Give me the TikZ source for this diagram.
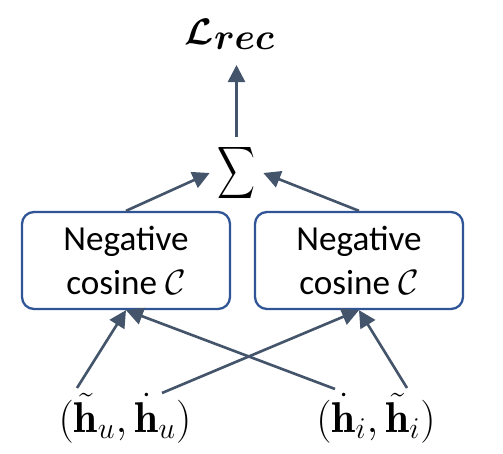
\RequirePackage{fix-cm}
\documentclass[tikz,border=0pt]{standalone}
\usepackage{fontspec}
\usepackage{amsmath,bm,graphicx}
\newfontfamily\calibri{Carlito}
\usetikzlibrary{arrows.meta}
\definecolor{arrowgray}{HTML}{44546A}
\definecolor{boxblue}{HTML}{2F5597}

\begin{document}
\begin{tikzpicture}
  \useasboundingbox (0,0) rectangle (10.06,9.08);

  \begin{scope}[every node/.style={draw=boxblue,line width=1.3pt,rounded corners=0.24cm,
      minimum width=4.16cm,minimum height=1.94cm,align=center,
      font=\calibri\fontsize{20}{25}\selectfont}]
    \node (neg1) at (2.52,3.87) {Negative\\cosine $\mathcal{C}$};
    \node (neg2) at (7.18,3.87) {Negative\\cosine $\mathcal{C}$};
  \end{scope}

  \begin{scope}[every node/.style={font=\fontsize{24.5}{28}\selectfont}]
    \node (user) at (2.5,0.72) {$(\tilde{\mathbf{h}}_u, \dot{\mathbf{h}}_u)$};
    \node (item) at (7.52,0.72) {$(\dot{\mathbf{h}}_i, \tilde{\mathbf{h}}_i)$};
  \end{scope}

  \node[minimum width=1.06cm,minimum height=1.44cm,inner sep=0,
    font=\fontsize{21}{24}\selectfont] (sum) at (4.73,5.62)
    {\scalebox{0.72}[1]{$\displaystyle\sum$}};
  \node[anchor=south,inner sep=0.3cm,font=\fontsize{21}{24}\selectfont] (loss) at (4.6,7.78)
    {$\bm{\mathcal{L}}_{\textstyle\bm{rec}}$};

  \coordinate (u1) at (1.54,1.32);
  \coordinate (u2) at (3.24,1.22);
  \coordinate (i1) at (6.7,1.3);
  \coordinate (i2) at (8.14,1.32);

  \begin{scope}[every edge/.style={draw=arrowgray,line width=1.5pt,
      -{Triangle[width=0.34cm,length=0.34cm]}}]
    \path (u1) edge (neg1.south);
    \path (u2) edge (neg2.south);
    \path (i1) edge (neg1.south);
    \path (i2) edge (neg2.south);
    \path (neg1.north) edge (sum.west);
    \path (neg2.north) edge (sum.east);
    \path (sum.north) edge (sum.north |- loss.south);
  \end{scope}

\end{tikzpicture}
\end{document}
